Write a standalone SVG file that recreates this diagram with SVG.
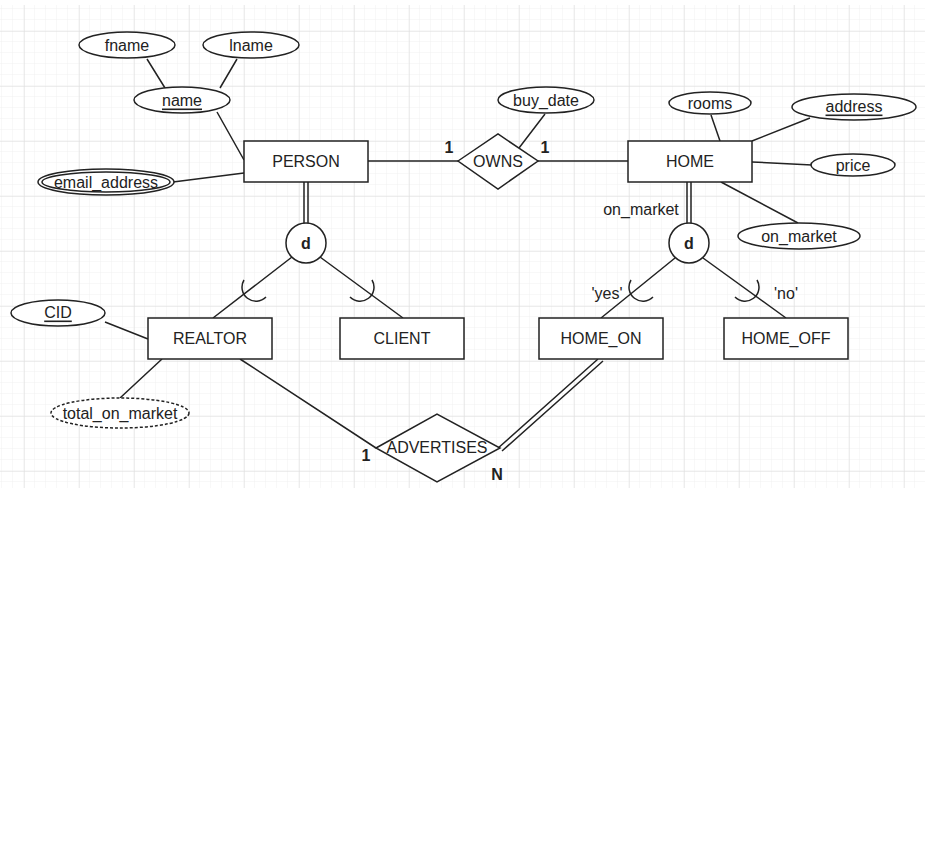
<svg xmlns="http://www.w3.org/2000/svg" width="933" height="862" viewBox="0 0 933 862">
<defs>
<pattern id="minor" width="11" height="11" patternUnits="userSpaceOnUse" x="2" y="9"><path d="M11 0V11M0 11H11" fill="none" stroke="#f0f0f0" stroke-width="1"/></pattern>
<pattern id="major" width="55" height="55" patternUnits="userSpaceOnUse" x="24" y="31"><path d="M0 0V55M0 0H55" fill="none" stroke="#dcdcdc" stroke-width="1"/></pattern>
</defs>
<style>
.e{fill:#fff;stroke:#222;stroke-width:1.5}
.l{stroke:#222;stroke-width:1.5;fill:none}
text{font-family:"Liberation Sans",Arial,sans-serif;font-size:16px;fill:#222;text-anchor:middle;dominant-baseline:central}
.b{font-weight:bold}
</style>
<rect width="933" height="862" fill="#fff"/>
<rect x="0" y="5" width="925" height="483" fill="url(#minor)"/>
<rect x="0" y="5" width="925" height="483" fill="url(#major)"/>
<g id="connectors">
<path class="l" d="M147 59L165 88M220 88L237 59M217 112L244 160M173 182L244 173M368 161H458M538 161H628M519 148L545 114"/>
<path class="l" d="M720 141L711 115M752 141L810 118M752 162L812 165M721 182L798 223"/>
<path class="l" d="M304 182V224M308 182V224M687 182V224M691 182V224"/>
<path class="l" d="M292 257L213 318M320 257L403 318M675 258L601 318M703 258L786 318"/>
<path class="l" d="M244 280A14 14 0 0 0 266 297M350 297A14 14 0 0 0 372 280M631 280A14 14 0 0 0 653 297M735 297A14 14 0 0 0 757 280"/>
<path class="l" d="M105 322L148 339M162 359L120 398M240 359L376 448M598 359L497 449M603 361L502 451"/>
</g>
<g id="fname"><ellipse class="e" cx="127" cy="45" rx="48" ry="13"/><text x="127" y="45">fname</text></g>
<g id="lname"><ellipse class="e" cx="251" cy="45" rx="48" ry="13"/><text x="251" y="45">lname</text></g>
<g id="name"><ellipse class="e" cx="182" cy="100" rx="48" ry="13"/><text x="182" y="100" text-decoration="underline">name</text></g>
<g id="email_address"><ellipse class="e" cx="106" cy="182" rx="68" ry="13"/><ellipse class="e" cx="106" cy="182" rx="64" ry="10"/><text x="106" y="182">email_address</text></g>
<g id="person"><rect class="e" x="244" y="141" width="124" height="41"/><text x="306" y="161">PERSON</text></g>
<g id="owns"><polygon class="e" points="458,161 498,134 538,161 498,189"/><text x="498" y="161">OWNS</text></g>
<text class="b" x="449" y="147">1</text><text class="b" x="545" y="147">1</text>
<g id="buy_date"><ellipse class="e" cx="546" cy="100" rx="48" ry="13"/><text x="546" y="100">buy_date</text></g>
<g id="home"><rect class="e" x="628" y="141" width="124" height="41"/><text x="690" y="161">HOME</text></g>
<g id="rooms"><ellipse class="e" cx="710" cy="103" rx="41" ry="11"/><text x="710" y="103">rooms</text></g>
<g id="address"><ellipse class="e" cx="854" cy="107" rx="62" ry="13"/><text x="854" y="106" text-decoration="underline">address</text></g>
<g id="price"><ellipse class="e" cx="853" cy="165" rx="42" ry="11"/><text x="853" y="165">price</text></g>
<g id="on_market_attr"><ellipse class="e" cx="799" cy="236" rx="61" ry="13"/><text x="799" y="236">on_market</text></g>
<text x="641" y="209">on_market</text>
<g id="d1"><circle class="e" cx="306" cy="243" r="20"/><text class="b" x="306" y="243">d</text></g>
<g id="d2"><circle class="e" cx="689" cy="243" r="20"/><text class="b" x="689" y="243">d</text></g>
<text x="607" y="293">'yes'</text><text x="786" y="293">'no'</text>
<g id="realtor"><rect class="e" x="148" y="318" width="124" height="41"/><text x="210" y="338">REALTOR</text></g>
<g id="client"><rect class="e" x="340" y="318" width="124" height="41"/><text x="402" y="338">CLIENT</text></g>
<g id="home_on"><rect class="e" x="539" y="318" width="124" height="41"/><text x="601" y="338">HOME_ON</text></g>
<g id="home_off"><rect class="e" x="724" y="318" width="124" height="41"/><text x="786" y="338">HOME_OFF</text></g>
<g id="cid"><ellipse class="e" cx="58" cy="313" rx="47" ry="13"/><text x="58" y="312" text-decoration="underline">CID</text></g>
<g id="total_on_market"><ellipse class="e" cx="120" cy="413" rx="69" ry="15" stroke-dasharray="3,2"/><text x="120" y="413">total_on_market</text></g>
<g id="advertises"><polygon class="e" points="376,448 437,414 500,448 437,482"/><text x="437" y="447">ADVERTISES</text></g>
<text class="b" x="366" y="455">1</text><text class="b" x="497" y="474">N</text>
</svg>
